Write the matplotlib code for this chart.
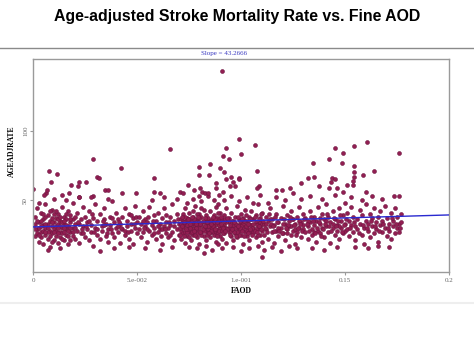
import numpy as np
import matplotlib
matplotlib.use("Agg")
import matplotlib.pyplot as plt
from matplotlib.lines import Line2D

# fitted line
slope = 43.2666
intercept = 30.6

# FAOD / AGEADJRATE pairs
pts_a = [(0.000,31),(0.001,24),(0.001,38),(0.002,29),(0.002,44),(0.003,20),(0.003,34),(0.004,27),(0.004,41),(0.005,32),
         (0.005,18),(0.005,36),(0.006,25),(0.006,30),(0.006,47),(0.007,22),(0.007,33),(0.007,39),(0.008,28),(0.008,16),
         (0.008,35),(0.009,31),(0.009,26),(0.009,43),(0.010,21),(0.010,34),(0.010,29),(0.011,37),(0.011,24),(0.011,31),
         (0.012,19),(0.012,40),(0.012,33),(0.013,27),(0.013,35),(0.013,23),(0.014,30),(0.014,45),(0.014,26),(0.015,33),
         (0.015,38),(0.015,21),(0.016,29),(0.016,36),(0.016,25),(0.017,42),(0.017,31),(0.017,18),(0.018,27),(0.018,34),
         (0.018,39),(0.019,24),(0.019,30),(0.019,48),(0.020,33),(0.020,22),(0.003,30),(0.004,35),(0.006,38),(0.008,42),
         (0.009,20),(0.011,28),(0.012,26),(0.014,34),(0.016,32),(0.018,30),(0.002,26),(0.005,28),(0.007,27),(0.010,40),
         (0.013,31),(0.015,27),(0.017,24),(0.019,36),(0.001,33),(0.004,23),(0.006,33),(0.009,37),(0.012,36),(0.015,30),
         (0.018,21),(0.020,38),(0.003,48),(0.010,51),(0.016,50),(0.007,14),(0.013,15),
         (0.001,29),(0.002,35),(0.003,25),(0.004,31),(0.005,40),(0.006,27),(0.007,30),(0.008,24),(0.009,34),(0.010,27),
         (0.011,42),(0.012,30),(0.013,38),(0.014,22),(0.015,35),(0.016,40),(0.017,28),(0.018,36),(0.019,27),(0.020,30)]
pts_b = [(0.021,28),(0.021,41),(0.022,33),(0.022,19),(0.023,36),(0.023,26),(0.024,31),(0.024,45),(0.025,23),(0.025,38),
         (0.026,29),(0.026,34),(0.027,21),(0.027,42),(0.028,32),(0.028,27),(0.029,37),(0.029,17),(0.030,30),(0.030,47),
         (0.031,25),(0.031,35),(0.032,40),(0.032,22),(0.033,31),(0.033,28),(0.034,36),(0.034,44),(0.035,24),(0.035,33),
         (0.036,29),(0.036,20),(0.037,38),(0.037,32),(0.038,26),(0.038,49),(0.039,34),(0.039,23),(0.040,30),(0.040,41),
         (0.041,27),(0.041,36),(0.042,19),(0.042,33),(0.043,38),(0.043,29),(0.044,25),(0.044,44),(0.045,31),(0.045,35),
         (0.046,22),(0.046,40),(0.047,28),(0.047,33),(0.048,37),(0.048,18),(0.049,30),(0.049,46),(0.050,26),(0.050,34),
         (0.024,26),(0.027,35),(0.031,29),(0.034,32),(0.038,37),(0.041,31),(0.044,28),(0.047,39),(0.022,52),(0.029,53),
         (0.036,51),(0.043,55),(0.039,15),(0.032,13),(0.046,16),
         (0.0215,34),(0.0255,31),(0.0295,27),(0.0335,35),(0.0375,29),(0.0415,34),(0.0455,27),(0.0495,38),
         (0.0235,29),(0.0285,40),(0.0355,26),(0.0425,30),(0.0485,33)]
pts_c = [(0.051,29),(0.051,38),(0.052,23),(0.052,33),(0.053,42),(0.053,27),(0.054,31),(0.054,36),(0.055,20),(0.055,34),
         (0.056,28),(0.056,45),(0.057,32),(0.057,25),(0.058,39),(0.058,30),(0.059,22),(0.059,35),(0.060,27),(0.060,41),
         (0.061,33),(0.061,29),(0.062,37),(0.062,18),(0.063,31),(0.063,44),(0.064,26),(0.064,34),(0.065,30),(0.065,23),
         (0.066,38),(0.066,32),(0.067,27),(0.067,47),(0.068,35),(0.068,21),(0.069,29),(0.069,40),(0.070,33),(0.070,25),
         (0.053,35),(0.055,29),(0.058,26),(0.060,31),(0.062,29),(0.064,39),(0.066,25),(0.068,31),(0.057,50),(0.063,52),
         (0.069,51),(0.054,15),(0.061,14),(0.067,16),
         (0.0535,30),(0.0575,35),(0.0615,24),(0.0655,34),(0.0695,36),(0.0555,38),(0.0635,29)]
pts_d = [(0.071,28),(0.071,36),(0.071,22),(0.072,31),(0.072,40),(0.072,26),(0.073,33),(0.073,19),(0.073,44),(0.074,29),
         (0.074,37),(0.074,24),(0.075,32),(0.075,27),(0.075,41),(0.076,35),(0.076,21),(0.076,30),(0.077,38),(0.077,25),
         (0.077,33),(0.078,28),(0.078,46),(0.078,31),(0.079,23),(0.079,36),(0.079,29),(0.080,34),(0.080,40),(0.080,18),
         (0.081,27),(0.081,32),(0.081,38),(0.082,24),(0.082,30),(0.082,43),(0.083,35),(0.083,28),(0.083,21),(0.084,33),
         (0.084,37),(0.084,26),(0.085,30),(0.085,42),(0.085,23),(0.086,36),(0.086,29),(0.086,34),(0.087,25),(0.087,39),
         (0.087,31),(0.088,27),(0.088,45),(0.088,20),(0.089,33),(0.089,29),(0.089,37),(0.090,24),(0.090,31),(0.090,41),
         (0.071,33),(0.072,35),(0.073,27),(0.074,32),(0.075,36),(0.076,26),(0.077,29),(0.078,35),(0.079,32),(0.080,30),
         (0.081,25),(0.082,34),(0.083,31),(0.084,29),(0.085,35),(0.086,32),(0.087,28),(0.088,33),(0.089,26),(0.090,35),
         (0.072,30),(0.074,27),(0.076,33),(0.078,25),(0.080,37),(0.082,28),(0.084,31),(0.086,27),(0.088,37),(0.090,29),
         (0.073,38),(0.075,23),(0.077,42),(0.079,40),(0.081,44),(0.083,39),(0.085,27),(0.087,34),(0.089,41),
         (0.074,48),(0.077,51),(0.081,49),(0.084,53),(0.087,50),(0.089,47),
         (0.075,16),(0.079,15),(0.083,17),(0.086,14),(0.089,18),(0.082,12),
         (0.0705,30),(0.0715,38),(0.0725,24),(0.0735,35),(0.0745,29),(0.0755,33),(0.0765,27),(0.0775,36),(0.0785,30),(0.0795,26),
         (0.0805,33),(0.0815,29),(0.0825,37),(0.0835,25),(0.0845,34),(0.0855,28),(0.0865,31),(0.0875,36),(0.0885,24),(0.0895,32),
         (0.0705,25),(0.0715,31),(0.0725,34),(0.0735,29),(0.0745,36),(0.0755,30),(0.0765,38),(0.0775,28),(0.0785,33),(0.0795,38),
         (0.0805,27),(0.0815,35),(0.0825,31),(0.0835,34),(0.0845,26),(0.0855,33),(0.0865,38),(0.0875,29),(0.0885,34),(0.0895,28)]
pts_e = [(0.091,28),(0.091,36),(0.091,22),(0.092,32),(0.092,39),(0.092,26),(0.093,30),(0.093,44),(0.093,19),(0.094,34),
         (0.094,27),(0.094,37),(0.095,24),(0.095,31),(0.095,41),(0.096,29),(0.096,35),(0.096,21),(0.097,33),(0.097,38),
         (0.097,26),(0.098,30),(0.098,46),(0.098,23),(0.099,36),(0.099,28),(0.099,32),(0.100,25),(0.100,40),(0.100,34),
         (0.101,29),(0.101,37),(0.101,18),(0.102,31),(0.102,43),(0.102,27),(0.103,35),(0.103,24),(0.103,30),(0.104,38),
         (0.104,33),(0.104,21),(0.105,28),(0.105,42),(0.105,32),(0.106,26),(0.106,36),(0.106,30),(0.107,39),(0.107,23),
         (0.107,34),(0.108,29),(0.108,47),(0.108,33),(0.109,25),(0.109,37),(0.109,31),(0.110,28),(0.110,41),(0.110,20),
         (0.091,31),(0.093,34),(0.095,28),(0.097,30),(0.099,25),(0.101,33),(0.103,28),(0.105,36),(0.107,29),(0.109,34),
         (0.092,35),(0.094,30),(0.096,32),(0.098,27),(0.100,31),(0.102,35),(0.104,27),(0.106,33),(0.108,25),(0.110,33),
         (0.092,50),(0.095,53),(0.099,49),(0.103,52),(0.106,48),(0.109,54),
         (0.091,15),(0.096,16),(0.100,13),(0.104,15),(0.108,17),
         (0.0905,33),(0.0915,26),(0.0925,36),(0.0935,29),(0.0945,32),(0.0955,35),(0.0965,27),(0.0975,33),(0.0985,38),(0.0995,30),
         (0.1005,28),(0.1015,35),(0.1025,31),(0.1035,26),(0.1045,36),(0.1055,30),(0.1065,28),(0.1075,32),(0.1085,36),(0.1095,29),
         (0.0905,38),(0.0915,30),(0.0925,28),(0.0935,37),(0.0945,25),(0.0955,29),(0.0965,34),(0.0975,24),(0.0985,31),(0.0995,35),
         (0.1005,36),(0.1015,24),(0.1025,39),(0.1035,33),(0.1045,29),(0.1055,25),(0.1065,38),(0.1075,27),(0.1085,31),(0.1095,40)]
pts_f = [(0.111,33),(0.111,25),(0.112,38),(0.112,29),(0.113,22),(0.113,35),(0.114,31),(0.114,44),(0.115,27),(0.115,36),
         (0.116,19),(0.116,32),(0.117,40),(0.117,28),(0.118,34),(0.118,24),(0.119,37),(0.119,30),(0.120,46),(0.120,26),
         (0.121,33),(0.121,21),(0.122,39),(0.122,29),(0.123,35),(0.123,31),(0.124,25),(0.124,42),(0.125,28),(0.125,36),
         (0.126,33),(0.126,18),(0.127,38),(0.127,27),(0.128,30),(0.128,45),(0.129,23),(0.129,34),(0.130,29),(0.130,40),
         (0.112,33),(0.114,36),(0.116,28),(0.118,30),(0.120,33),(0.122,26),(0.124,31),(0.126,29),(0.128,35),(0.130,32),
         (0.113,48),(0.117,52),(0.121,50),(0.125,55),(0.129,51),
         (0.111,14),(0.115,16),(0.119,13),(0.123,17),(0.127,15),(0.110,9),
         (0.1105,35),(0.1125,27),(0.1145,33),(0.1165,38),(0.1185,28),(0.1205,36),(0.1225,32),(0.1245,36),(0.1265,25),(0.1285,33),
         (0.1115,30),(0.1135,40),(0.1155,31),(0.1175,34),(0.1195,26),(0.1215,30),(0.1235,38),(0.1255,32),(0.1275,30),(0.1295,28)]
pts_g = [(0.131,27),(0.131,37),(0.132,31),(0.132,22),(0.133,42),(0.133,34),(0.134,29),(0.134,25),(0.135,38),(0.135,32),
         (0.136,20),(0.136,35),(0.137,28),(0.137,45),(0.138,33),(0.138,26),(0.139,40),(0.139,30),(0.140,36),(0.140,23),
         (0.141,31),(0.141,47),(0.142,27),(0.142,38),(0.143,34),(0.143,19),(0.144,30),(0.144,42),(0.145,25),(0.145,36),
         (0.146,32),(0.146,28),(0.147,44),(0.147,22),(0.148,35),(0.148,30),(0.149,39),(0.149,26),(0.150,33),(0.150,48),
         (0.132,35),(0.135,27),(0.138,37),(0.141,35),(0.144,33),(0.147,31),(0.150,28),
         (0.133,53),(0.139,51),(0.145,54),(0.149,56),
         (0.134,15),(0.140,14),(0.146,16),
         (0.1305,36),(0.1325,28),(0.1345,35),(0.1365,30),(0.1385,24),(0.1405,33),(0.1425,31),(0.1445,37),(0.1465,35),(0.1485,27),
         (0.1315,33),(0.1335,38),(0.1355,26),(0.1375,34),(0.1395,29),(0.1415,40),(0.1435,28),(0.1455,31),(0.1475,39),(0.1495,32)]
pts_h = [(0.151,29),(0.151,41),(0.152,35),(0.152,24),(0.153,32),(0.153,45),(0.154,27),(0.154,38),(0.155,31),(0.155,21),
         (0.156,36),(0.156,29),(0.157,43),(0.157,33),(0.158,25),(0.158,39),(0.159,30),(0.159,18),(0.160,35),(0.160,47),
         (0.161,28),(0.161,33),(0.162,40),(0.162,23),(0.163,31),(0.163,37),(0.164,26),(0.164,44),(0.165,34),(0.165,29),
         (0.166,38),(0.166,20),(0.167,32),(0.167,42),(0.168,27),(0.168,35),(0.169,30),(0.169,46),(0.170,24),(0.170,37),
         (0.171,33),(0.171,28),(0.172,41),(0.172,22),(0.173,35),(0.173,31),(0.174,26),(0.174,44),(0.175,30),(0.175,38),
         (0.176,33),(0.176,27),(0.177,40),(0.177,34),
         (0.153,52),(0.158,50),(0.163,53),(0.168,51),
         (0.155,16),(0.161,15),(0.166,17),(0.171,16),
         (0.1505,36),(0.1525,30),(0.1545,34),(0.1565,26),(0.1585,32),(0.1605,30),(0.1625,35),(0.1645,31),(0.1665,28),
         (0.1685,33),(0.1705,30),(0.1725,37),(0.1745,33),(0.1765,30)]
# the high ones above the main band
pts_high = [(0.0907,143),(0.0989,94),(0.0659,87),(0.029,80),(0.0422,73),(0.000,58),(0.0077,71),(0.0114,69),(0.0088,63),
            (0.0306,67),(0.0319,66),(0.0582,66),(0.0912,82),(0.093,88),(0.094,80),(0.090,73),(0.085,76),(0.0797,74),
            (0.0797,68),(0.0848,68),(0.0918,70),(0.0953,67),(0.0989,66),(0.088,62),(0.0926,65),(0.0183,61),(0.0215,60),
            (0.0221,63),(0.0255,63),(0.0348,57),(0.0359,57),(0.0138,54),(0.0061,55),(0.0066,57),(0.0053,54),(0.0175,55),
            (0.0223,52),(0.0277,52),(0.0494,55),(0.0582,56),(0.0612,55),(0.0707,56),(0.0744,61),(0.072,55),(0.0776,57),
            (0.0803,59),(0.0811,56),(0.0826,55),(0.0798,53),(0.0841,55),(0.088,59),(0.0893,54),(0.0912,56),(0.0947,60),
            (0.0963,63),(0.0973,60),(0.1067,90),(0.1002,83),(0.1453,88),(0.1541,89),(0.1604,92),(0.1758,84),(0.1421,80),
            (0.149,84),(0.1487,77),(0.1345,77),(0.1541,75),(0.1545,70),(0.1585,68),(0.1638,71),(0.1078,71),(0.0992,65),
            (0.1322,66),(0.1353,67),(0.1439,66),(0.1453,65),(0.1433,63),(0.129,62),(0.151,61),(0.154,61),(0.154,64),
            (0.1545,67),(0.1085,60),(0.1077,59),(0.1374,60),(0.1421,59),(0.1461,59),(0.117,57),(0.1197,57),(0.1237,59),
            (0.1601,56),(0.1758,53),(0.1737,53)]

xticks = [0, 0.05, 0.1, 0.15, 0.2]
xticklabels = ['0', '5.e-002', '1.e-001', '0.15', '0.2']
yticks = [50, 100]

W, H = 474, 355
serif = 'Liberation Serif'
tick_col = '#666666'
frame_col = '#9a9a9a'

fig = plt.figure(figsize=(W/100, H/100), dpi=100)
fig.patch.set_facecolor('white')

fig.text(0.5, 1-17/H, 'Age-adjusted Stroke Mortality Rate vs. Fine AOD',
         ha='center', va='center', fontsize=11.4, fontweight='bold',
         family='Liberation Sans', color='black')
fig.add_artist(Line2D([0, 1], [1-48/H, 1-48/H], color='#8a8a8a', lw=1.0))
fig.add_artist(Line2D([0, 1], [1-303/H, 1-303/H], color='#eeeeee', lw=1.5))

ax = fig.add_axes([33/W, 1-272/H, 416/W, 213/H])

allpts = np.array(pts_a + pts_b + pts_c + pts_d + pts_e + pts_f + pts_g + pts_h + pts_high)
ax.scatter(allpts[:, 0], allpts[:, 1], marker='o', s=8, c='#921e52',
           edgecolors='#6e1440', linewidths=0.4, zorder=2)

xl = np.array([0, 0.2])
ax.plot(xl, intercept + slope*xl, color='#2a2ad0', lw=1.0, zorder=3)

ax.set_xlim(0, 0.2)
ax.set_ylim(-2, 152)
ax.set_xticks(xticks)
ax.set_xticklabels(xticklabels)
ax.set_yticks(yticks)
ax.set_yticklabels([str(v) for v in yticks], rotation=90, va='center')
ax.tick_params(direction='out', length=2.5, width=0.8, color=frame_col,
               labelsize=5, labelcolor=tick_col, pad=2)
ax.tick_params(axis='y', pad=1)
for lab in ax.get_xticklabels() + ax.get_yticklabels():
    lab.set_family(serif)
for sp in ax.spines.values():
    sp.set_color(frame_col)
    sp.set_linewidth(1.0)

ax.set_xlabel('FAOD', family=serif, fontweight='bold', fontsize=5.5)
ax.xaxis.set_label_coords(0.5, -0.07)
ax.set_ylabel('AGEADJRATE', family=serif, fontweight='bold', fontsize=5.5)
ax.yaxis.set_label_coords(-17/416, (272-151)/213)

fig.text(224/W, 1-53/H, 'Slope = 43.2666', ha='center', va='center',
         fontsize=5, family=serif, color='#3838c0')

fig.savefig('out.png', dpi=100)
